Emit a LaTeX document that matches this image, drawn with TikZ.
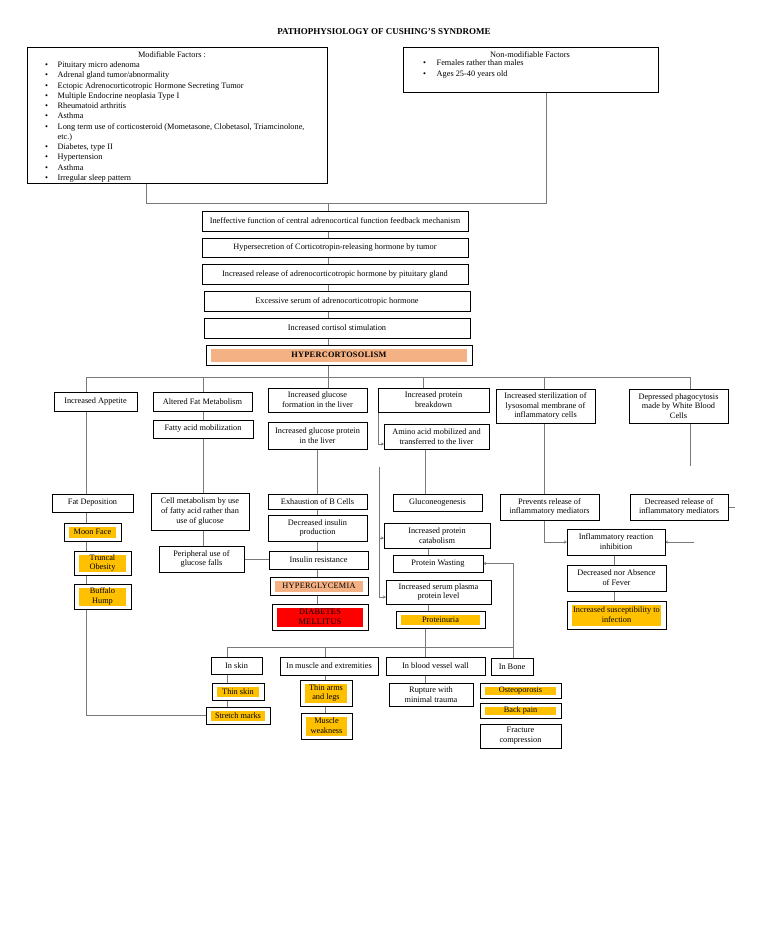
\documentclass[tikz,border=0pt]{standalone}
\usepackage{fontspec}
\setmainfont{Liberation Serif}
\usetikzlibrary{arrows.meta}
\definecolor{hlorange}{HTML}{FFC000}
\definecolor{hlsalmon}{HTML}{F4B183}
\definecolor{hlred}{HTML}{FF0000}
\definecolor{linegray}{HTML}{7A7A7A}
\newcommand{\fsz}{\fontsize{8.3}{9.8}\selectfont}
\newcommand{\bx}[7][]{\node[boxst,minimum width={(#5)-(#3)},minimum height={(#6)-(#4)},#1] (#2) at ({((#3)+(#5))/2},{((#4)+(#6))/2}) {#7};}
\pgfdeclarelayer{bg}
\pgfsetlayers{bg,main}
\begin{document}
\begin{tikzpicture}[x=1pt,y=-1pt,
  boxst/.style={draw=black,line width=1pt,fill=white,inner sep=0pt,outer sep=0pt,align=center,font=\fsz},
  conn/.style={draw=linegray,line width=0.7pt},
  arr/.style={conn,-{Stealth[length=3pt,width=3pt]}},
  hl/.style={path picture={\fill[#1] ([xshift=5pt,yshift=-3.5pt]path picture bounding box.north west) rectangle ([xshift=-5pt,yshift=3.5pt]path picture bounding box.south east);}},
  lbl/.style={inner sep=0pt,font=\fsz}]
\useasboundingbox (0,0) rectangle (768,932);

\node[inner sep=0pt] (title) at (384,32) {\fontsize{9}{10}\selectfont\bfseries PATHOPHYSIOLOGY OF CUSHING'S SYNDROME};

% risk factors
\bx{mod}{27}{47}{327}{183}{}
\node[lbl] (modt) at (172,55) {Modifiable Factors :};
\node[anchor=north west,inner sep=0pt,font=\fontsize{8.3}{10.25}\selectfont] (modlist) at (45,60.3) {\begin{tabular}{@{}p{12.5pt}@{}l@{}}
\textbullet & Pituitary micro adenoma\\
\textbullet & Adrenal gland tumor/abnormality\\
\textbullet & Ectopic Adrenocorticotropic Hormone Secreting Tumor\\
\textbullet & Multiple Endocrine neoplasia Type I\\
\textbullet & Rheumatoid arthritis\\
\textbullet & Asthma\\
\textbullet & Long term use of corticosteroid (Mometasone, Clobetasol, Triamcinolone,\\
 & etc.)\\
\textbullet & Diabetes, type II\\
\textbullet & Hypertension\\
\textbullet & Asthma\\
\textbullet & Irregular sleep pattern
\end{tabular}};
\bx{nonmod}{403}{47}{658}{92}{}
\node[lbl] (nonmodt) at (530,55) {Non-modifiable Factors};
\node[anchor=north west,inner sep=0pt,font=\fontsize{8.3}{10.5}\selectfont] (nonmodlist) at (423,58) {\begin{tabular}{@{}p{13.5pt}@{}l@{}}
\textbullet & Females rather than males\\
\textbullet & Ages 25-40 years old
\end{tabular}};

% main chain
\bx{c1}{202}{211}{468}{231}{Ineffective function of central adrenocortical function feedback mechanism}
\bx{c2}{202}{238}{468}{257}{Hypersecretion of Corticotropin-releasing hormone by tumor}
\bx{c3}{202}{264}{468}{284}{Increased release of adrenocorticotropic hormone by pituitary gland}
\bx{c4}{204}{291}{470}{311}{Excessive serum of adrenocorticotropic hormone}
\bx{c5}{204}{318}{470}{338}{Increased cortisol stimulation}
\bx[hl=hlsalmon]{hyper}{206}{345}{472}{365}{\bfseries\addfontfeature{LetterSpace=3}HYPERCORTOSOLISM}

% row 1
\bx{app}{54}{392}{137}{411}{Increased Appetite}
\bx{alt}{153}{392}{252}{411}{Altered Fat Metabolism}
\bx{gform}{268}{388}{367}{412}{Increased glucose\\formation in the liver}
\bx{pb}{378}{388}{489}{412}{Increased protein\\breakdown}
\bx{ster}{496}{389}{595}{423}{Increased sterilization of\\lysosomal membrane of\\inflammatory cells}
\bx{dep}{629}{389}{728}{423}{Depressed phagocytosis\\made by White Blood\\Cells}

% row 2
\bx{fatty}{153}{420}{253}{438}{Fatty acid mobilization}
\bx{gprot}{268}{422}{367}{449}{Increased glucose protein\\in the liver}
\bx{amino}{384}{424}{489}{449}{Amino acid mobilized and\\transferred to the liver}

% row 3
\bx{fatdep}{52}{494}{133}{512}{Fat Deposition}
\bx{cellm}{151}{493}{249}{530}{Cell metabolism by use\\of fatty acid rather than\\use of glucose}
\bx{exh}{268}{494}{367}{509}{Exhaustion of B Cells}
\bx{gluco}{393}{494}{482}{511}{Gluconeogenesis}
\bx{prev}{500}{494}{599}{520}{Prevents release of\\inflammatory mediators}
\bx{decr}{630}{494}{728}{520}{Decreased release of\\inflammatory mediators}

% left column
\bx[hl=hlorange]{moon}{64}{523}{121}{541}{Moon Face}
\bx[hl=hlorange]{trunc}{74}{551}{131}{575}{Truncal\\Obesity}
\bx[hl=hlorange]{buff}{74}{584}{131}{609}{Buffalo\\Hump}
\bx{periph}{159}{546}{244}{572}{Peripheral use of\\glucose falls}

% glucose column
\bx{decins}{268}{515}{367}{541}{Decreased insulin\\production}
\bx{insres}{269}{551}{368}{569}{Insulin resistance}
\bx[hl=hlsalmon]{hgly}{270}{577}{368}{595}{\addfontfeature{LetterSpace=3}HYPERGLYCEMIA}
\bx[hl=hlred]{dm}{272}{604}{368}{630}{\addfontfeature{LetterSpace=3}DIABETES\\\addfontfeature{LetterSpace=3}MELLITUS}

% protein column
\bx{cat}{384}{523}{490}{548}{Increased protein\\catabolism}
\bx{pw}{393}{555}{483}{572}{Protein Wasting}
\bx{ser}{386}{580}{491}{604}{Increased serum plasma\\protein level}
\bx[hl=hlorange]{prot}{396}{611}{485}{628}{Proteinuria}

% inflammation column
\bx{infl}{567}{529}{665}{555}{Inflammatory reaction\\inhibition}
\bx{fever}{567}{565}{666}{591}{Decreased nor Absence\\of Fever}
\bx[hl=hlorange]{susc}{567}{601}{666}{629}{Increased susceptibility to\\infection}

% bottom row
\bx{inskin}{211}{657}{262}{674}{In skin}
\bx{inmus}{280}{657}{378}{675}{In muscle and extremities}
\bx{inblood}{386}{657}{485}{675}{In blood vessel wall}
\bx{inbone}{491}{658}{533}{675}{In Bone}
\bx[hl=hlorange]{thinskin}{212}{683}{264}{700}{Thin skin}
\bx[hl=hlorange]{stretch}{206}{707}{270}{724}{Stretch marks}
\bx[hl=hlorange]{thinarms}{300}{680}{352}{706}{Thin arms\\and legs}
\bx[hl=hlorange]{muscw}{301}{713}{352}{739}{Muscle\\weakness}
\bx{rupt}{389}{683}{473}{706}{Rupture with\\minimal trauma}
\bx[hl=hlorange]{osteo}{480}{683}{561}{698}{Osteoporosis}
\bx[hl=hlorange]{back}{480}{703}{561}{718}{Back pain}
\bx{fract}{480}{724}{561}{748}{Fracture\\compression}

% coordinates
\coordinate (j1) at (146,203);
\coordinate (j2) at (546,203);
\coordinate (jx) at (328,0);
\coordinate (bA) at (86,377);
\coordinate (bB) at (203,377);
\coordinate (bC) at (328,377);
\coordinate (bD) at (423,377);
\coordinate (bE) at (544,377);
\coordinate (bF) at (690,377);
\coordinate (xG) at (317,0);
\coordinate (xH) at (425,0);
\coordinate (xJ) at (428,0);
\coordinate (xI) at (614,0);
\coordinate (xM) at (325,0);
\coordinate (depend) at (690,466);
\coordinate (decstub) at (735,0);
\coordinate (rarr) at (694,0);
\coordinate (v1) at (379,467);
\coordinate (bb1) at (227,647);
\coordinate (bb2) at (513,647);

\begin{pgfonlayer}{bg}
\fill[white] (0,0) rectangle (768,932);
% top
\draw[conn] (mod.south -| j1) -- (j1) -- (j2) -- (nonmod.south -| j2);
\draw[conn] (j1 -| jx) -- (c1.north -| jx);
\draw[conn] (c1.south -| jx) -- (c2.north -| jx);
\draw[conn] (c2.south -| jx) -- (c3.north -| jx);
\draw[conn] (c3.south -| jx) -- (c4.north -| jx);
\draw[conn] (c4.south -| jx) -- (c5.north -| jx);
\draw[conn] (c5.south -| jx) -- (hyper.north -| jx);
\draw[conn] (hyper.south -| jx) -- (bC);
% bus
\draw[conn] (bA) -- (bF);
\draw[conn] (bA) -- (app.north -| bA);
\draw[conn] (bB) -- (alt.north -| bB);
\draw[conn] (bC) -- (gform.north -| bC);
\draw[conn] (bD) -- (pb.north -| bD);
\draw[conn] (bE) -- (ster.north -| bE);
\draw[conn] (bF) -- (dep.north -| bF);
% left column
\draw[conn] (app.south -| bA) -- (fatdep.north -| bA);
\draw[conn] (fatdep.south -| bA) |- (stretch.west);
% fat column
\draw[conn] (alt.south -| bB) -- (fatty.north -| bB);
\draw[conn] (fatty.south -| bB) -- (cellm.north -| bB);
\draw[conn] (cellm.south -| bB) -- (periph.north -| bB);
\draw[conn] (periph.east) -- (periph.east -| insres.west);
% glucose column
\draw[conn] (gprot.south -| xG) -- (exh.north -| xG);
\draw[conn] (exh.south -| xG) -- (decins.north -| xG);
\draw[conn] (decins.south -| xG) -- (insres.north -| xG);
\draw[conn] (insres.south -| xG) -- (hgly.north -| xG);
\draw[conn] (hgly.south -| xG) -- (dm.north -| xG);
% protein column
\draw[arr] (pb.south west) |- ([yshift=5pt]amino.south west);
\draw[conn] (amino.south -| xH) -- (gluco.north -| xH);
\draw[arr] (v1) |- ([yshift=10pt]cat.south west);
\draw[arr] (v1) |- ([yshift=7pt]ser.south west);
\draw[conn] (cat.south -| xJ) -- (pw.north -| xJ);
\draw[conn] (ser.south -| xJ) -- (prot.north -| xJ);
\draw[conn] (prot.south -| xH) -- (bb1 -| xH);
% inflammation
\draw[conn] (dep.south -| bF) -- (depend);
\draw[conn] (decr.east) -- (decstub |- decr.east);
\draw[conn] (ster.south -| bE) -- (prev.north -| bE);
\draw[arr] (prev.south -| bE) |- (infl.west);
\draw[arr] (rarr |- infl.east) -- (infl.east);
\draw[conn] (infl.south -| xI) -- (fever.north -| xI);
\draw[conn] (fever.south -| xI) -- (susc.north -| xI);
% bottom bus
\draw[conn] (bb1) -- (bb2);
\draw[conn] (bb1) -- (inskin.north -| bb1);
\draw[conn] (bb1 -| xM) -- (inmus.north -| xM);
\draw[conn] (bb1 -| xH) -- (inblood.north -| xH);
\draw[conn] (bb2) -- (inbone.north -| bb2);
\draw[arr] (bb2) |- (pw.east);
\draw[conn] (inskin.south -| bb1) -- (thinskin.north -| bb1);
\draw[conn] (thinskin.south -| bb1) -- (stretch.north -| bb1);
\draw[conn] (inmus.south -| xM) -- (thinarms.north -| xM);
\draw[conn] (thinarms.south -| xM) -- (muscw.north -| xM);
\draw[conn] (inblood.south -| xH) -- (rupt.north -| xH);
\end{pgfonlayer}
\end{tikzpicture}
\end{document}
